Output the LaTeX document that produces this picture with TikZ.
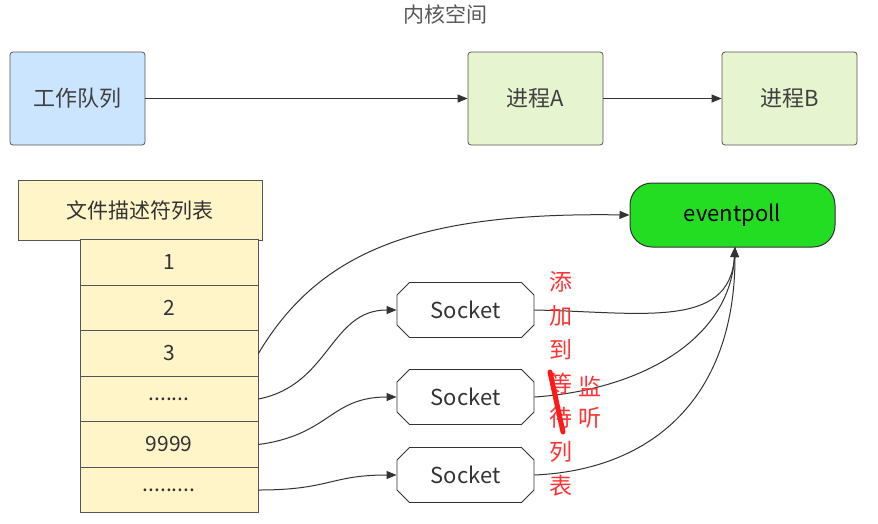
\documentclass[tikz,border=0pt]{standalone}
\usepackage{fontspec}
\setmainfont{Noto Sans CJK SC}
\usetikzlibrary{shapes.misc,arrows.meta}
\definecolor{bx}{HTML}{555555}
\definecolor{lb}{HTML}{CCE5FF}
\definecolor{lg}{HTML}{E6F5D0}
\definecolor{yl}{HTML}{FFF5C8}
\definecolor{eg}{HTML}{22DD22}
\begin{document}
\begin{tikzpicture}[x=1pt,y=-1pt,
  box/.style={draw=bx,line width=0.8pt,rounded corners=3pt,minimum width=135pt,minimum height=93pt,font=\fontsize{22}{26}\selectfont,text=black!75},
  row/.style={draw=bx,line width=0.8pt,fill=yl,minimum width=178pt,minimum height=45.5pt,font=\fontsize{21}{25}\selectfont,text=black!80},
  sock/.style={draw=black!80,line width=0.9pt,chamfered rectangle,chamfered rectangle xsep=10pt,minimum width=137pt,minimum height=55pt,inner sep=0pt,font=\fontsize{22}{26}\selectfont,text=black!80},
  con/.style={draw=black!80,line width=1pt},
  arr/.style={con,-{Triangle[length=10pt,width=8pt]}},
  red/.style={text=red!80,font=\fontsize{23}{26}\selectfont}]
\useasboundingbox (0,0) rectangle (878,523);
\node[text=black!65,font=\fontsize{21}{25}\selectfont] (t) at (445,14) {内核空间};
\node[box,fill=lb] (w) at (77.5,98.5) {工作队列};
\node[box,fill=lg] (a) at (535.5,98.5) {进程A};
\node[box,fill=lg] (b) at (789.5,98.5) {进程B};
\draw[arr] (w) -- (a);
\draw[arr] (a) -- (b);
\node[row,minimum width=244pt,minimum height=60pt] (h) at (140,210) {文件描述符列表};
\node[row] (r1) at (169,262.5) {1};
\node[row] (r2) at (169,308) {2};
\node[row] (r3) at (169,353.5) {3};
\node[row] (r4) at (169,399) {.......};
\node[row] (r5) at (169,444.5) {9999};
\node[row] (r6) at (169,490) {.........};
\node[draw=black!80,line width=1pt,fill=eg,rounded corners=22pt,minimum width=205pt,minimum height=64pt,font=\fontsize{22}{26}\selectfont] (e) at (732.5,215) {eventpoll};
\node[sock] (s1) at (465.5,310) {Socket};
\node[sock] (s2) at (465.5,397) {Socket};
\node[sock] (s3) at (465.5,475) {Socket};
\draw[arr] (r3.east) .. controls (320,250) and (420,212) .. (e.west);
\draw[arr] (r4.east) .. controls (330,385) and (330,310) .. (s1.west);
\draw[arr] (r5.east) .. controls (330,435) and (330,397) .. (s2.west);
\draw[arr] (r6.east) .. controls (330,490) and (330,475) .. (s3.west);
\coordinate (ep) at (735,247);
\draw[arr] (s1.east) .. controls (640,312) and (730,330) .. (ep);
\draw[arr] (s2.east) .. controls (640,390) and (730,340) .. (ep);
\draw[arr] (s3.east) .. controls (650,470) and (735,400) .. (ep);
\foreach \c [count=\i] in {添,加,到,等,待,列,表}
  \node[red,inner sep=0pt] (c\i) at (561,248+34*\i) {\c};
\draw[red!90,line width=5pt,line cap=round] (550,372) -- (563,432);
\node[red,inner sep=0pt] (m1) at (590,386) {监};
\node[red,inner sep=0pt] (m2) at (590,418) {听};
\end{tikzpicture}
\end{document}
